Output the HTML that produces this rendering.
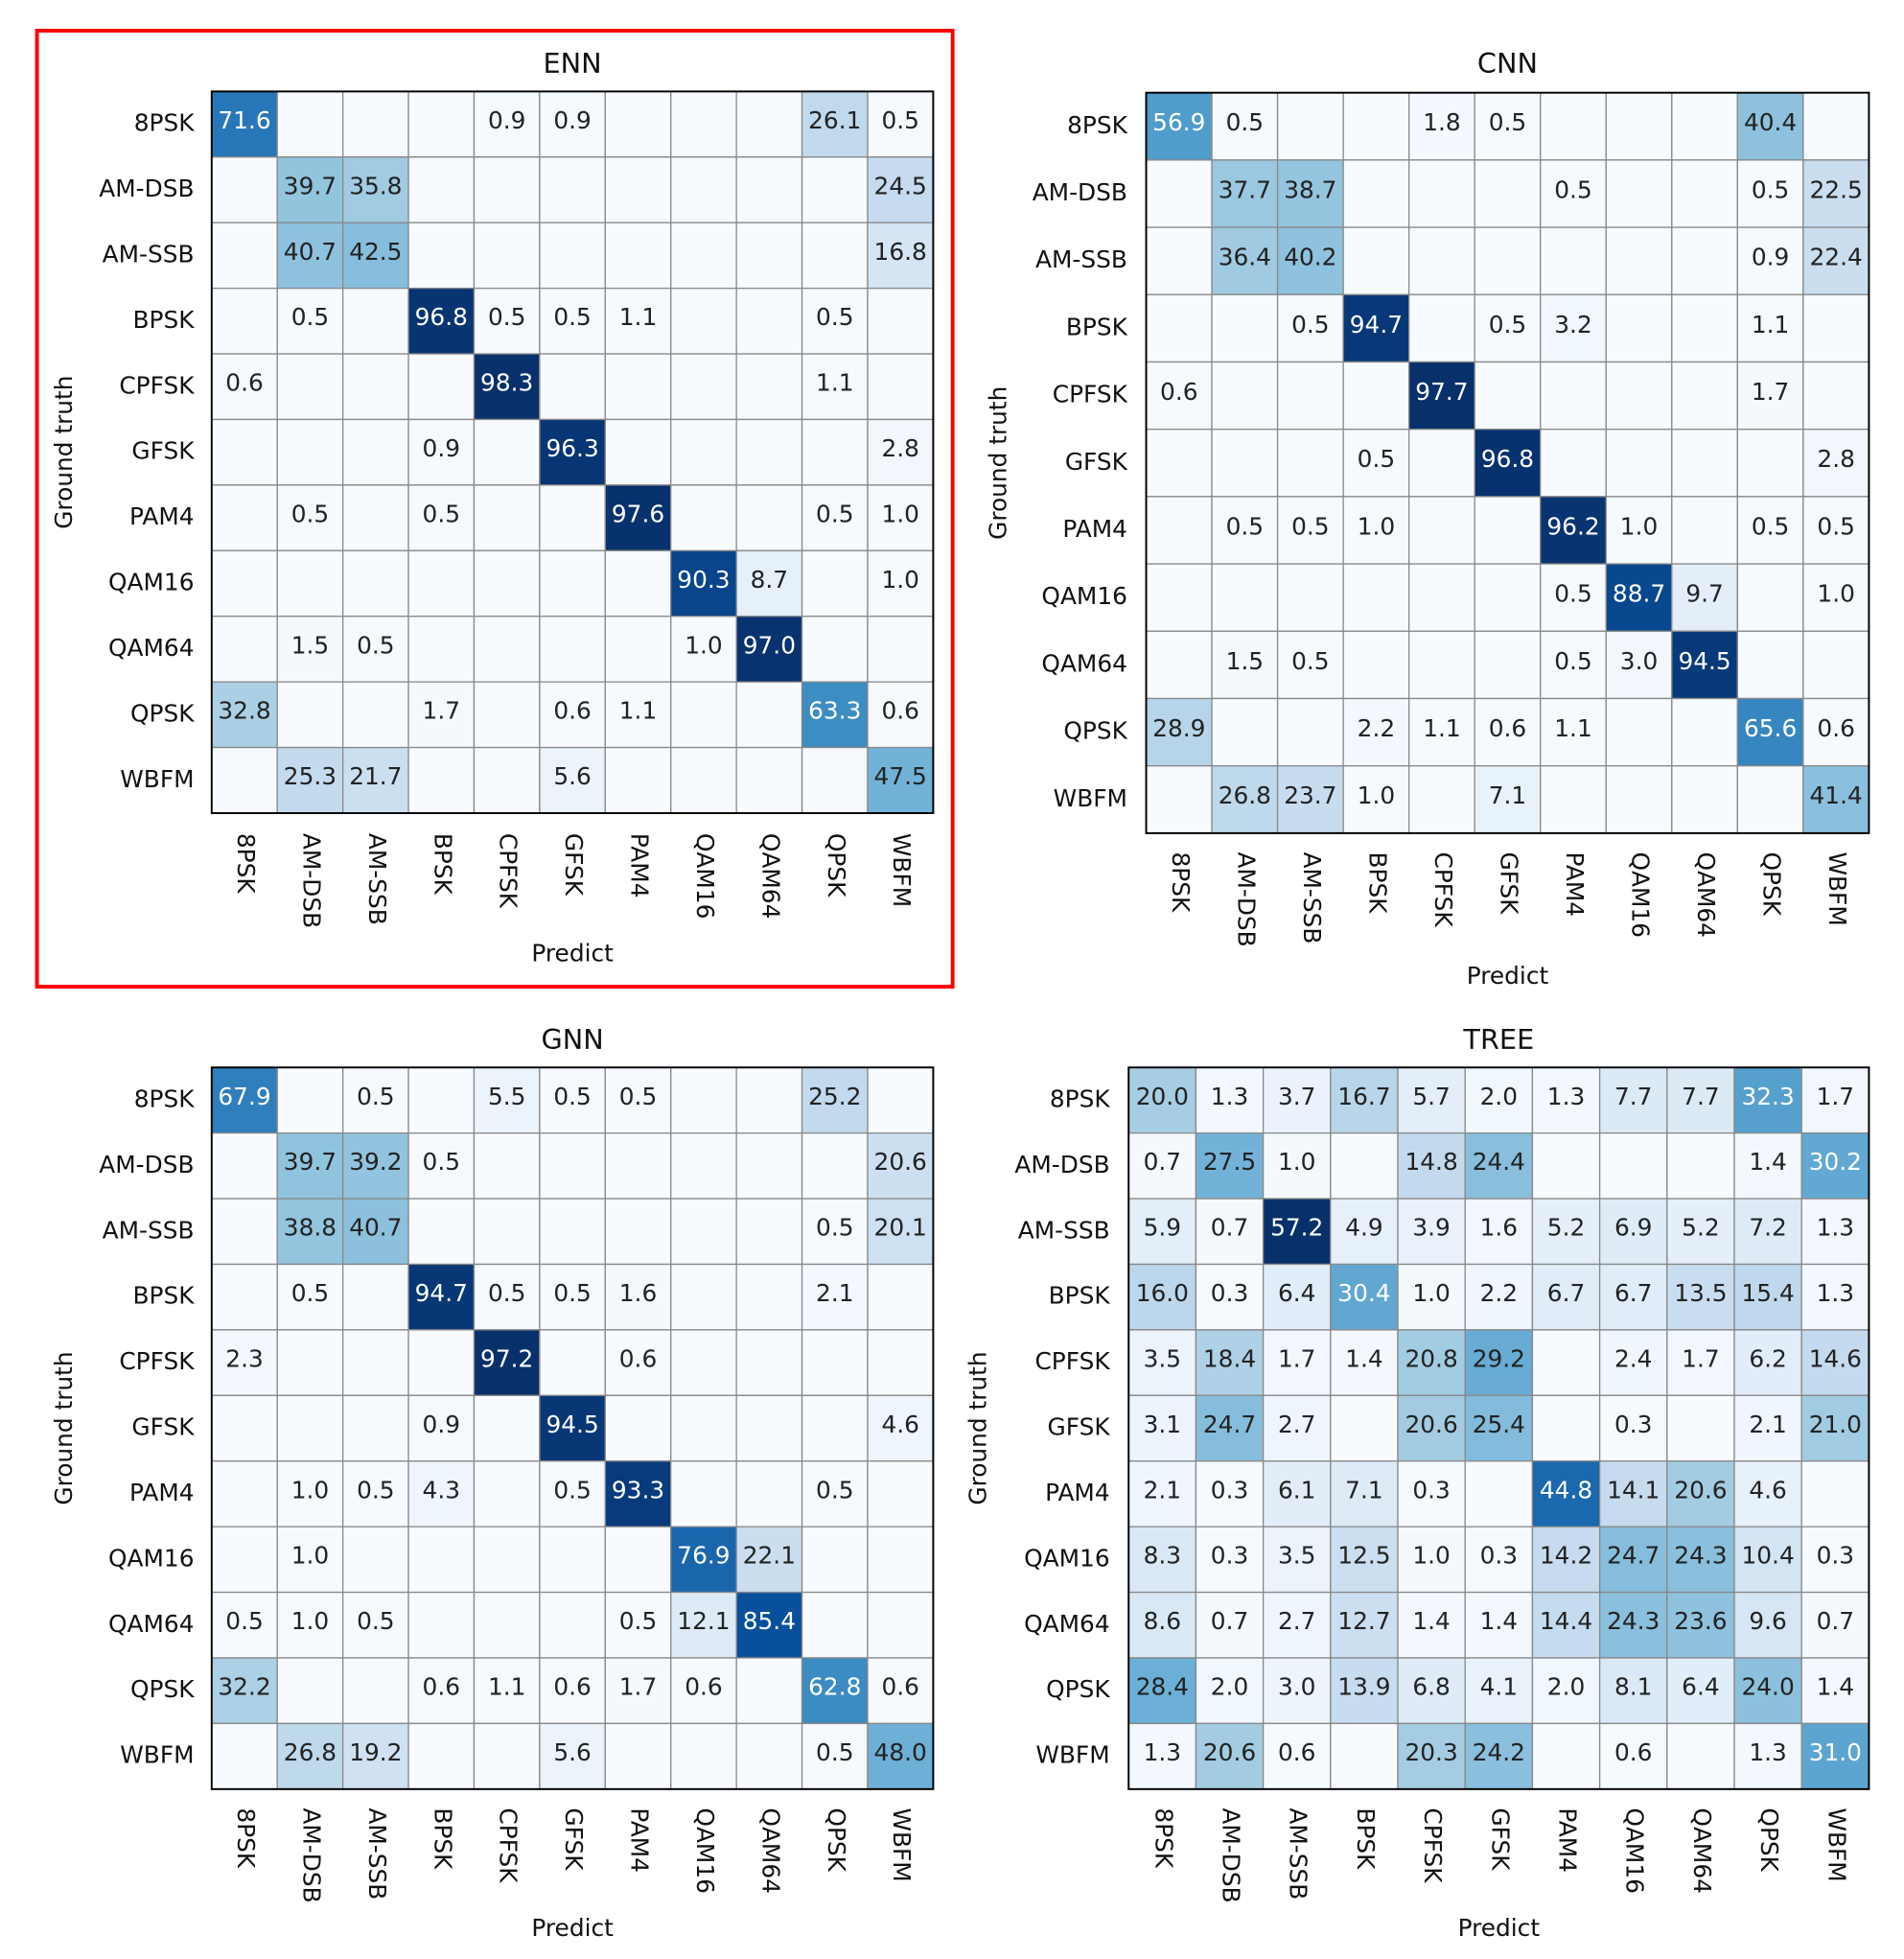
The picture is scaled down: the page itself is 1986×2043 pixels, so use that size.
<!DOCTYPE html>
<html><head><meta charset="utf-8"><style>
html,body{margin:0;padding:0;background:#fff;}
svg{display:block;}
text{font-family:"DejaVu Sans","Liberation Sans",sans-serif;}
</style></head><body>
<svg id="s" width="1986" height="2043" viewBox="0 0 1520 1563.6" preserveAspectRatio="none" xmlns="http://www.w3.org/2000/svg">
<rect x="0" y="0" width="1520" height="1564" fill="#fff"/>
<rect x="29.5" y="24.5" width="731" height="763" fill="none" stroke="#f00" stroke-width="3"/>
</svg>
<script>
const L=["8PSK","AM-DSB","AM-SSB","BPSK","CPFSK","GFSK","PAM4","QAM16","QAM64","QPSK","WBFM"];
const M={
ENN:[[71.6,0,0,0,0.9,0.9,0,0,0,26.1,0.5],[0,39.7,35.8,0,0,0,0,0,0,0,24.5],[0,40.7,42.5,0,0,0,0,0,0,0,16.8],[0,0.5,0,96.8,0.5,0.5,1.1,0,0,0.5,0],[0.6,0,0,0,98.3,0,0,0,0,1.1,0],[0,0,0,0.9,0,96.3,0,0,0,0,2.8],[0,0.5,0,0.5,0,0,97.6,0,0,0.5,1.0],[0,0,0,0,0,0,0,90.3,8.7,0,1.0],[0,1.5,0.5,0,0,0,0,1.0,97.0,0,0],[32.8,0,0,1.7,0,0.6,1.1,0,0,63.3,0.6],[0,25.3,21.7,0,0,5.6,0,0,0,0,47.5]],
CNN:[[56.9,0.5,0,0,1.8,0.5,0,0,0,40.4,0],[0,37.7,38.7,0,0,0,0.5,0,0,0.5,22.5],[0,36.4,40.2,0,0,0,0,0,0,0.9,22.4],[0,0,0.5,94.7,0,0.5,3.2,0,0,1.1,0],[0.6,0,0,0,97.7,0,0,0,0,1.7,0],[0,0,0,0.5,0,96.8,0,0,0,0,2.8],[0,0.5,0.5,1.0,0,0,96.2,1.0,0,0.5,0.5],[0,0,0,0,0,0,0.5,88.7,9.7,0,1.0],[0,1.5,0.5,0,0,0,0.5,3.0,94.5,0,0],[28.9,0,0,2.2,1.1,0.6,1.1,0,0,65.6,0.6],[0,26.8,23.7,1.0,0,7.1,0,0,0,0,41.4]],
GNN:[[67.9,0,0.5,0,5.5,0.5,0.5,0,0,25.2,0],[0,39.7,39.2,0.5,0,0,0,0,0,0,20.6],[0,38.8,40.7,0,0,0,0,0,0,0.5,20.1],[0,0.5,0,94.7,0.5,0.5,1.6,0,0,2.1,0],[2.3,0,0,0,97.2,0,0.6,0,0,0,0],[0,0,0,0.9,0,94.5,0,0,0,0,4.6],[0,1.0,0.5,4.3,0,0.5,93.3,0,0,0.5,0],[0,1.0,0,0,0,0,0,76.9,22.1,0,0],[0.5,1.0,0.5,0,0,0,0.5,12.1,85.4,0,0],[32.2,0,0,0.6,1.1,0.6,1.7,0.6,0,62.8,0.6],[0,26.8,19.2,0,0,5.6,0,0,0,0.5,48.0]],
TREE:[[20.0,1.3,3.7,16.7,5.7,2.0,1.3,7.7,7.7,32.3,1.7],[0.7,27.5,1.0,0,14.8,24.4,0,0,0,1.4,30.2],[5.9,0.7,57.2,4.9,3.9,1.6,5.2,6.9,5.2,7.2,1.3],[16.0,0.3,6.4,30.4,1.0,2.2,6.7,6.7,13.5,15.4,1.3],[3.5,18.4,1.7,1.4,20.8,29.2,0,2.4,1.7,6.2,14.6],[3.1,24.7,2.7,0,20.6,25.4,0,0.3,0,2.1,21.0],[2.1,0.3,6.1,7.1,0.3,0,44.8,14.1,20.6,4.6,0],[8.3,0.3,3.5,12.5,1.0,0.3,14.2,24.7,24.3,10.4,0.3],[8.6,0.7,2.7,12.7,1.4,1.4,14.4,24.3,23.6,9.6,0.7],[28.4,2.0,3.0,13.9,6.8,4.1,2.0,8.1,6.4,24.0,1.4],[1.3,20.6,0.6,0,20.3,24.2,0,0.6,0,1.3,31.0]]};
const stops=[[247,251,255],[222,235,247],[198,219,239],[158,202,225],[107,174,214],[66,146,198],[33,113,181],[8,81,156],[8,48,107]];
function cm(t){t=Math.max(0,Math.min(1,t))*8;let i=Math.min(7,Math.floor(t)),f=t-i;const a=stops[i],b=stops[i+1];return `rgb(${a.map((v,k)=>Math.round(v+(b[k]-v)*f)).join(",")})`;}
const P=[{n:"ENN",x0:169,x1:745,y0:73,y1:649,ty:52,ry:155,cy:665,py:762,gx:52},
{n:"CNN",x0:915,x1:1492,y0:74,y1:665,ty:52,ry:900,cy:680,py:780,gx:798},
{n:"GNN",x0:169,x1:745,y0:852,y1:1428,ty:831,ry:155,cy:1443,py:1540,gx:52},
{n:"TREE",x0:901,x1:1492,y0:852,y1:1428,ty:831,ry:886,cy:1443,py:1540,gx:782}];
let h="";
for(const p of P){const d=M[p.n],mx=Math.max(...d.flat()),cw=(p.x1-p.x0)/11,ch=(p.y1-p.y0)/11,cx=(p.x0+p.x1)/2,my=(p.y0+p.y1)/2;
for(let r=0;r<11;r++)for(let c=0;c<11;c++){const v=d[r][c],x=p.x0+c*cw,y=p.y0+r*ch;
h+=`<rect x="${x}" y="${y}" width="${cw}" height="${ch}" fill="${cm(v/mx)}" stroke="#888" stroke-width="1"/>`;
if(v>0)h+=`<text x="${x+cw/2}" y="${y+ch/2-2}" font-size="19" text-anchor="middle" dominant-baseline="middle" fill="${v>0.52*mx?'#fff':'#222'}">${v.toFixed(1)}</text>`;}
h+=`<rect x="${p.x0}" y="${p.y0}" width="${p.x1-p.x0}" height="${p.y1-p.y0}" fill="none" stroke="#000" stroke-width="1.5"/>`;
for(let i=0;i<11;i++){h+=`<text x="${p.ry}" y="${p.y0+(i+0.5)*ch}" font-size="19" text-anchor="end" dominant-baseline="middle" fill="#111">${L[i]}</text>`;
const xx=p.x0+(i+0.5)*cw;h+=`<text transform="translate(${xx},${p.cy}) rotate(90)" font-size="19" dominant-baseline="middle" fill="#111">${L[i]}</text>`;}
h+=`<text x="${cx}" y="${p.ty}" font-size="22" text-anchor="middle" dominant-baseline="middle" fill="#111">${p.n}</text>`;
h+=`<text x="${cx}" y="${p.py}" font-size="19" text-anchor="middle" dominant-baseline="middle" fill="#111">Predict</text>`;
h+=`<text transform="translate(${p.gx},${my}) rotate(-90)" font-size="19" text-anchor="middle" dominant-baseline="middle" fill="#111">Ground truth</text>`;}
document.getElementById("s").insertAdjacentHTML("beforeend",h);
</script>
</body></html>
